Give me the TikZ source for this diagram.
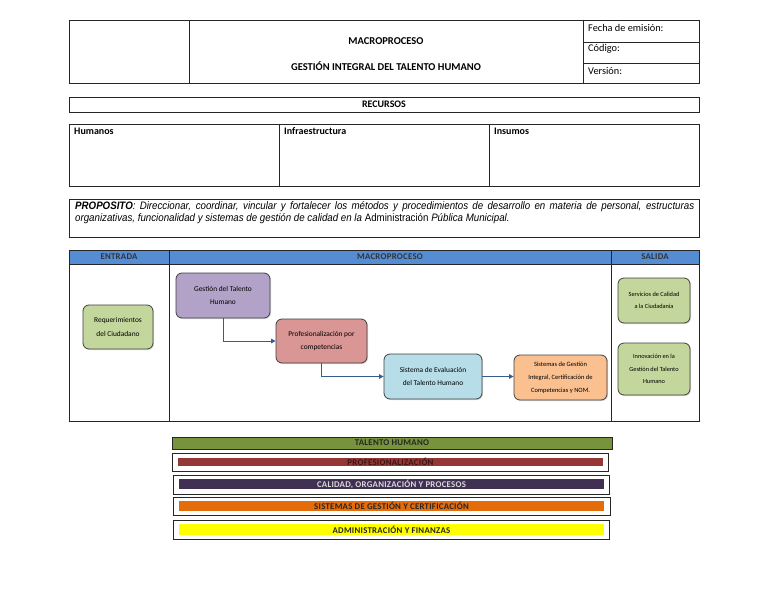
\documentclass[tikz,border=0pt]{standalone}
\usepackage{fontspec}
\setmainfont{Carlito}
\newfontfamily\narrowf[FakeStretch=0.9]{Liberation Sans}
\usetikzlibrary{arrows.meta,shadows}
\definecolor{laneblue}{RGB}{84,141,212}
\definecolor{lavender}{RGB}{179,162,199}
\definecolor{rose}{RGB}{217,150,148}
\definecolor{skyb}{RGB}{183,222,232}
\definecolor{peach}{RGB}{250,192,144}
\definecolor{lgreen}{RGB}{195,214,155}
\definecolor{olive}{RGB}{119,147,60}
\definecolor{darkred}{RGB}{149,55,53}
\definecolor{dpurple}{RGB}{64,49,82}
\definecolor{orng}{RGB}{228,108,10}
\definecolor{yel}{RGB}{255,255,0}
\definecolor{navy}{RGB}{56,93,138}
\tikzset{
  frame/.style={draw=black!85, line width=0.9pt},
  hdr/.style={font=\fontsize{10.5}{12}\selectfont\bfseries, inner sep=0},
  lbl/.style={font=\fontsize{10.3}{12}\selectfont, inner sep=0, anchor=west},
  sub/.style={font=\fontsize{10}{12}\selectfont\bfseries, inner sep=0, anchor=west},
  lane/.style={font=\fontsize{8.8}{10}\selectfont\bfseries\addfontfeature{LetterSpace=3}, text=black!80, inner sep=0},
  proc/.style={draw=black!75, rounded corners=6pt, line width=0.8pt, align=center,
    inner sep=0, font=\fontsize{7.4}{13.5}\selectfont,
    drop shadow={opacity=0.3, shadow xshift=1pt, shadow yshift=-1pt}},
  arr/.style={draw=navy, line width=0.9pt, -{Triangle[length=4.5pt,width=4.5pt]}},
  bar/.style={inner sep=0, font=\fontsize{8.8}{10}\selectfont\bfseries\addfontfeature{LetterSpace=3}},
  barbox/.style={draw=black!85, line width=0.9pt, fill=white}
}
\begin{document}
\begin{tikzpicture}[x=1pt,y=-1pt]
\useasboundingbox (0,0) rectangle (768,594);
\fill[white] (0,0) rectangle (768,594);
% header
\draw[frame] (69,20) rectangle (699,83);
\draw[frame] (189,20) -- (189,83) (583,20) -- (583,83);
\draw[frame] (583,42) -- (699,42) (583,63) -- (699,63);
\node[hdr] (t1) at (386,41) {MACROPROCESO};
\node[hdr] (t2) at (386,66.5) {GESTIÓN INTEGRAL DEL TALENTO HUMANO};
\node[lbl] (f1) at (588,28) {Fecha de emisión:};
\node[lbl] (f2) at (588,49) {Código:};
\node[lbl] (f3) at (588,70.5) {Versión:};
% recursos
\draw[frame] (69,97) rectangle (699,112);
\node[hdr, font=\fontsize{10}{11}\selectfont\bfseries] (rec) at (384,104) {RECURSOS};
\draw[frame] (69,124) rectangle (699,186);
\draw[frame] (279,124) -- (279,186) (489,124) -- (489,186);
\node[sub] (h1) at (74,131) {Humanos};
\node[sub] (h2) at (284,131) {Infraestructura};
\node[sub] (h3) at (494,131) {Insumos};
% proposito
\draw[frame] (69,199) rectangle (699,237);
\node[anchor=north west, inner sep=0, text width=619pt, align=justify,
  font=\narrowf\fontsize{10.8}{12}\selectfont] (prop) at (75,201)
  {\textbf{\textit{PROPOSITO}}\textit{: Direccionar, coordinar, vincular y fortalecer los métodos y procedimientos de desarrollo en materia de personal, estructuras\linebreak organizativas, funcionalidad y sistemas de gestión de calidad en la} Administración \textit{Pública Municipal.}};
% swimlane
\fill[laneblue] (69,250) rectangle (699,264);
\draw[frame] (69,250) rectangle (699,421);
\draw[frame] (69,264) -- (699,264);
\draw[frame] (169,250) -- (169,421) (611,250) -- (611,421);
\node[lane] (l1) at (119,257) {ENTRADA};
\node[lane] (l2) at (390,257) {MACROPROCESO};
\node[lane] (l3) at (655,257) {SALIDA};
% process nodes
\node[proc, fill=lgreen, minimum width=70pt, minimum height=44pt] (r) at (118,327) {Requerimientos\\del Ciudadano};
\node[proc, fill=lavender, minimum width=94pt, minimum height=45pt] (g) at (223,295.5) {Gestión del Talento\\Humano};
\node[proc, fill=rose, minimum width=91pt, minimum height=44pt] (p) at (321.5,341) {Profesionalización por\\competencias};
\node[proc, fill=skyb, minimum width=98pt, minimum height=45pt] (e) at (433,376.5) {Sistema de Evaluación\\del Talento Humano};
\node[proc, fill=peach, minimum width=93pt, minimum height=45pt, font=\fontsize{6.5}{13}\selectfont] (s) at (560.5,377.5) {Sistemas de Gestión\\Integral, Certificación de\\Competencias y NOM.};
\node[proc, fill=lgreen, minimum width=72pt, minimum height=45pt, font=\fontsize{6.3}{11.5}\selectfont] (sv) at (654,300.5) {Servicios de Calidad\\a la Ciudadanía};
\node[proc, fill=lgreen, minimum width=72pt, minimum height=52pt, font=\fontsize{6.3}{12.5}\selectfont] (in) at (654,369) {Innovación en la\\Gestión del Talento\\Humano};
\draw[arr] (g.south) |- (p.west);
\draw[arr] (p.south) |- (e.west);
\draw[arr] (e.east) -- (e.east -| s.west);
% bottom bars
\node[bar, draw=black!85, line width=0.9pt, fill=olive, text=black!85, minimum width=440pt, minimum height=12pt] (b1) at (392,443) {TALENTO HUMANO};
\draw[barbox] (172,453) rectangle (608,471);
\node[bar, fill=darkred, text=black!60!darkred, minimum width=425pt, minimum height=8pt] (b2) at (390.5,462) {PROFESIONALIZACIÓN};
\draw[barbox] (173,475) rectangle (609,494);
\node[bar, fill=dpurple, text=white!85!black, minimum width=425pt, minimum height=10pt] (b3) at (391.5,484) {CALIDAD, ORGANIZACIÓN Y PROCESOS};
\draw[barbox] (173,497) rectangle (610,515);
\node[bar, fill=orng, text=black!85, minimum width=425pt, minimum height=10pt] (b4) at (391.5,506) {SISTEMAS DE GESTIÓN Y CERTIFICACIÓN};
\draw[barbox] (173,520) rectangle (609,539);
\node[bar, fill=yel, text=black!85, minimum width=425pt, minimum height=11pt] (b5) at (391.5,529.5) {ADMINISTRACIÓN Y FINANZAS};
\end{tikzpicture}
\end{document}
